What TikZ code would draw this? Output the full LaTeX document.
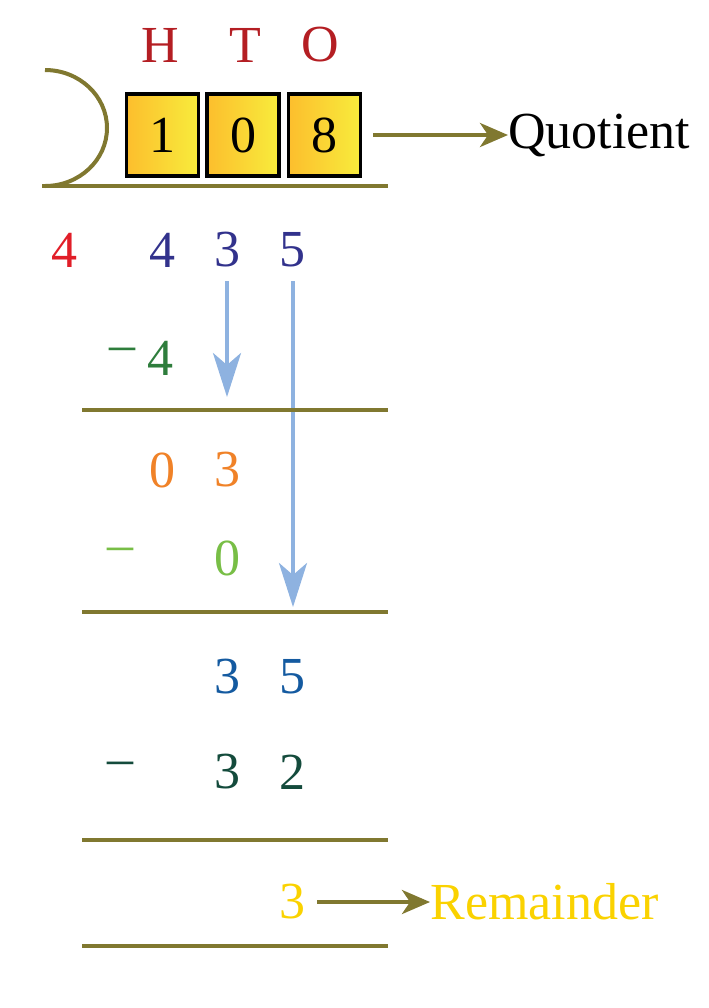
\documentclass[tikz,border=0pt]{standalone}
\usepackage{fontspec}
\setmainfont{Liberation Serif}
\usetikzlibrary{arrows.meta}
\definecolor{olive2}{RGB}{128,120,48}
\definecolor{hred}{RGB}{180,30,35}
\definecolor{dred}{RGB}{225,30,40}
\definecolor{dblue}{RGB}{50,50,140}
\definecolor{lblue}{RGB}{142,178,224}
\definecolor{dgreen}{RGB}{46,125,60}
\definecolor{orng}{RGB}{240,130,40}
\definecolor{lgreen}{RGB}{120,190,70}
\definecolor{mblue}{RGB}{20,90,160}
\definecolor{teal2}{RGB}{20,75,60}
\definecolor{yel}{RGB}{250,210,0}
\definecolor{boxL}{RGB}{252,190,45}
\definecolor{boxR}{RGB}{248,236,60}
\begin{document}
\begin{tikzpicture}[x=0.5pt,y=-0.5pt,
  txt/.style={font=\fontsize{26}{30}\selectfont,inner sep=0pt},
  hline/.style={draw=olive2,line width=2pt},
  oarrow/.style={draw=olive2,line width=2pt,-{Stealth[length=14pt,width=12pt,inset=4pt]}},
  barrow/.style={draw=lblue,line width=2pt,-{Stealth[length=22pt,width=14pt,inset=6pt]}},
  qbox/.style={draw=black,line width=1.6pt,left color=boxL,right color=boxR,minimum width=36pt,minimum height=41pt,inner sep=0pt,font=\fontsize{26}{30}\selectfont}]
\useasboundingbox (0,0) rectangle (708,1008);
\node[txt,text=hred] (H) at (160,45) {H};
\node[txt,text=hred] (T) at (245,45) {T};
\node[txt,text=hred] (O) at (320,45) {O};
\node[qbox] (q1) at (162.5,135) {1};
\node[qbox] (q2) at (243,135) {0};
\node[qbox] (q3) at (324.5,135) {8};
\coordinate (qs) at (373,135);
\node[txt,anchor=west] (quot) at (508,135) {Quotient};
\draw[oarrow] (qs) -- (quot.west);
\coordinate (l1a) at (42,186); \coordinate (l1b) at (388,186);
\draw[hline] (l1a) -- (l1b);
\coordinate (arcS) at (45,186);
\draw[hline] (arcS) arc[start angle=90,end angle=-90,x radius=62,y radius=58];
\node[txt,text=dred] (dv) at (65,250) {4};
\node[txt,text=dblue] (d1) at (162,250) {4};
\node[txt,text=dblue] (d2) at (227,250) {3};
\node[txt,text=dblue] (d3) at (292,250) {5};
\coordinate (a1e) at (227,397);
\coordinate (a2e) at (293,607);
\draw[barrow] (227,281) -- (a1e);
\draw[barrow] (293,281) -- (a2e);
\node[txt,text=dgreen] (m1) at (122,355) {–};
\node[txt,text=dgreen] (s1) at (160,358) {4};
\draw[hline] (82,410) -- (388,410);
\node[txt,text=orng] (r1) at (162,470) {0};
\node[txt,text=orng] (r2) at (227,470) {3};
\node[txt,text=lgreen] (m2) at (120,555) {–};
\node[txt,text=lgreen] (s2) at (227,558) {0};
\draw[hline] (82,612) -- (388,612);
\node[txt,text=mblue] (r3) at (227,677) {3};
\node[txt,text=mblue] (r4) at (292,677) {5};
\node[txt,text=teal2] (m3) at (120,769) {–};
\node[txt,text=teal2] (s3) at (227,772) {3};
\node[txt,text=teal2] (s4) at (292,772) {2};
\draw[hline] (82,840) -- (388,840);
\node[txt,text=yel] (rem) at (292,902) {3};
\node[txt,text=yel,anchor=west] (reml) at (430,902) {Remainder};
\draw[oarrow] ([xshift=6pt]rem.east) -- (reml.west);
\draw[hline] (82,946) -- (388,946);
\end{tikzpicture}
\end{document}
